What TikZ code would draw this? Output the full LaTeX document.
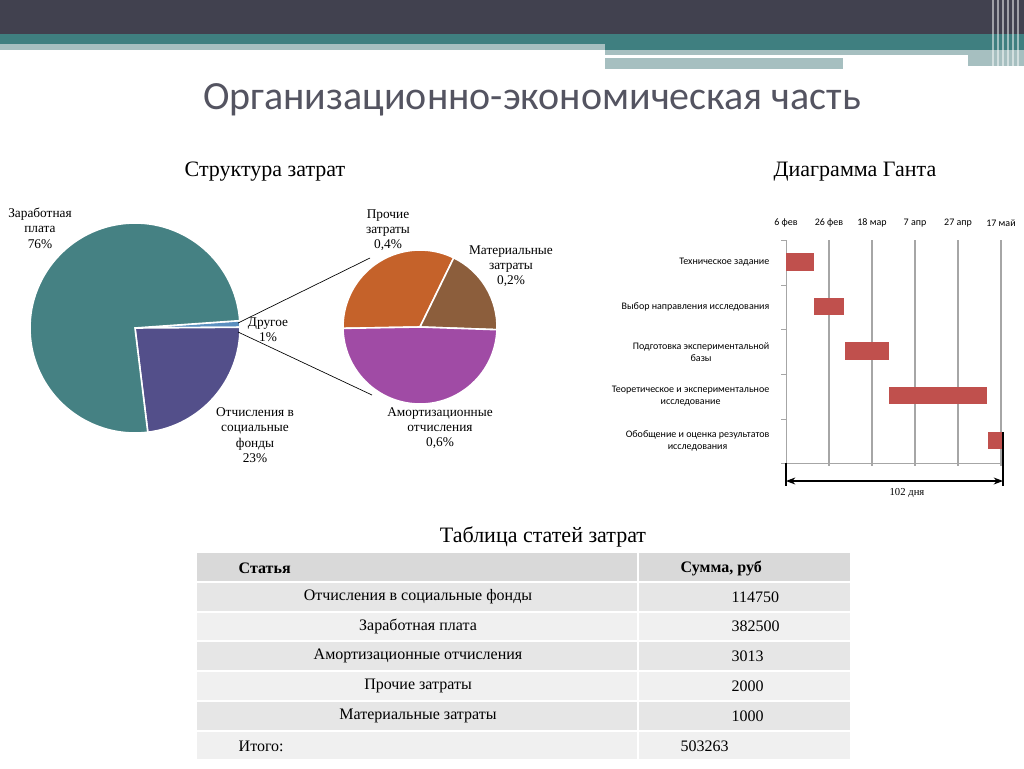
\documentclass[tikz,border=0pt]{standalone}
\usepackage{fontspec}
\setmainfont{Liberation Serif}
\newfontfamily\calib{Carlito}
\usetikzlibrary{positioning,arrows.meta}
\definecolor{hdark}{HTML}{41414F}
\definecolor{hteal}{HTML}{3F7F80}
\definecolor{hlight}{HTML}{A6BFC0}
\definecolor{sdteal}{HTML}{458183}
\definecolor{sdpurple}{HTML}{534F8A}
\definecolor{sdblue}{HTML}{5B8FBF}
\definecolor{sdorange}{HTML}{C5622A}
\definecolor{sdbrown}{HTML}{8C5E3C}
\definecolor{sdmagenta}{HTML}{A04BA5}
\definecolor{gbar}{HTML}{C0504D}
\definecolor{rowa}{HTML}{E6E6E6}
\definecolor{rowb}{HTML}{F0F0F0}
\definecolor{rowh}{HTML}{D9D9D9}
\newcommand{\pieslice}[5]{%
  \fill[#5, draw=white, line width=1.2pt] (#1) -- ++(#3:#2) arc[start angle=#3, end angle=#4, radius=#2] -- cycle;}
\tikzset{
  pielabel/.style={align=center, font=\fontsize{10}{11.5}\selectfont},
  subtitle/.style={font=\fontsize{16.5}{19}\selectfont},
  ganttlabel/.style={align=right, anchor=east, font=\calib\fontsize{7.5}{9}\selectfont},
  datelabel/.style={font=\calib\fontsize{7.5}{9}\selectfont},
  ganttbar/.style={fill=gbar},
  cell/.style={font=\fontsize{12}{14}\selectfont},
}
\begin{document}
\begin{tikzpicture}[x=0.75pt,y=-0.75pt]
\useasboundingbox (0,0) rectangle (1024,768);
% header bars
\fill[hdark] (0,0) rectangle (1024,34);
\fill[hteal] (0,34) rectangle (1024,44);
\fill[hlight] (0,44) rectangle (605,50);
\fill[hteal] (605,44) rectangle (1024,50);
\fill[hlight] (605,50) rectangle (1024,55);
\fill[white] (605,55) rectangle (968,58);
\fill[hlight] (968,55) rectangle (1024,66);
\fill[hlight] (605,58) rectangle (843,69);
\foreach \x in {993,998,1003,1008,1013,1018}
  \draw[white, opacity=.5, line width=0.8pt] (\x,0) -- (\x,66);
% title
\node[font=\calib\fontsize{30}{34}\selectfont, text=hdark!90] (title) at (532,100) {Организационно-экономическая часть};
\node[subtitle] (costs) at (265,172) {Структура затрат};
\node[subtitle] (gantt) at (855,172) {Диаграмма Ганта};
% pie of costs
\coordinate (pa) at (135,328);
\pieslice{pa}{78.75pt}{4}{0.4}{sdblue}
\pieslice{pa}{78.75pt}{0.4}{-83}{sdpurple}
\pieslice{pa}{78.75pt}{4}{277}{sdteal}
\coordinate (pb) at (420,327);
\pieslice{pb}{57.75pt}{181}{64}{sdorange}
\pieslice{pb}{57.75pt}{64}{-2}{sdbrown}
\pieslice{pb}{57.75pt}{-2}{-179}{sdmagenta}
\coordinate (oth1) at (238,323);
\coordinate (oth2) at (238,332);
\coordinate (pbt) at (370,258);
\coordinate (pbb) at (372,395);
\draw[black, line width=0.5pt] (oth1) -- (pbt);
\draw[black, line width=0.5pt] (oth2) -- (pbb);
\node[pielabel] (lsal) at (40,228) {Заработная\\плата\\76\%};
\node[pielabel] (loth) at (268,330) {Другое\\1\%};
\node[pielabel] (lsoc) at (255,435) {Отчисления в\\социальные\\фонды\\23\%};
\node[pielabel] (lpro) at (388,230) {Прочие\\затраты\\0,4\%};
\node[pielabel] (lmat) at (511,266) {Материальные\\затраты\\0,2\%};
\node[pielabel] (lamo) at (440,428) {Амортизационные\\отчисления\\0,6\%};
% gantt chart
\foreach \x in {829,872,915,958,1001}
  \draw[gray!70, line width=0.8pt] (\x,240) -- (\x,466);
\draw[gray!70, line width=0.6pt] (786,240) -- (786,463) -- (1003,463);
\foreach \y in {240,285,329,374,419,463}
  \draw[gray!70, line width=0.6pt] (781,\y) -- (786,\y);
\foreach \x/\d in {786/6 фев,829/26 фев,872/18 мар,915/7 апр,958/27 апр,1001/17 май}
  \node[datelabel] at (\x,223) {\d};
\fill[ganttbar] (786,253) rectangle (814,271);
\fill[ganttbar] (814,298) rectangle (844,315);
\fill[ganttbar] (845,342) rectangle (889,360);
\fill[ganttbar] (889,387) rectangle (987,404);
\fill[ganttbar] (988,432) rectangle (1003,449);
\node[ganttlabel] (t1) at (774,262) {Техническое задание};
\node[ganttlabel] (t2) at (774,307) {Выбор направления исследования};
\node[ganttlabel, align=center] (t3) at (774,352) {Подготовка экспериментальной\\базы};
\node[ganttlabel, align=center] (t4) at (774,396) {Теоретическое и экспериментальное\\исследование};
\node[ganttlabel, align=center] (t5) at (774,441) {Обобщение и оценка результатов\\исследования};
\coordinate (ds) at (786,481);
\coordinate (de) at (1003,481);
\draw[line width=1pt] (786,463) -- (786,486);
\draw[line width=1pt] (1003,432) -- (1003,486);
\draw[{Stealth[length=7pt]}-{Stealth[length=7pt]}, line width=0.8pt] (ds) -- (de);
\node[font=\fontsize{8}{9}\selectfont] (dur) at (907,493) {102 дня};
% table
\node[subtitle] (tabt) at (543,537) {Таблица статей затрат};
\fill[rowh] (197,553) rectangle (850,582);
\foreach \i/\c in {0/rowa,1/rowb,2/rowa,3/rowb,4/rowa,5/rowb}
  \fill[\c] (197,582+\i*29.7) rectangle (850,582+\i*29.7+29.7);
\foreach \i in {0,...,6}
  \draw[white, line width=1.5pt] (197,582+\i*29.7) -- (850,582+\i*29.7);
\draw[white, line width=1.5pt] (638,553) -- (638,760);
\node[cell, font=\bfseries\fontsize{12}{14}\selectfont, anchor=west] (h1) at (234,568) {Статья};
\node[cell, font=\bfseries\fontsize{12}{14}\selectfont, anchor=west] (h2) at (676,568) {Сумма, руб};
\foreach \i/\n/\v in {0/Отчисления в социальные фонды/114750,1/Заработная плата/382500,2/Амортизационные отчисления/3013,3/Прочие затраты/2000,4/Материальные затраты/1000}{
  \node[cell] at (418,597+\i*29.7) {\n};
  \node[cell, anchor=west] at (727,597+\i*29.7) {\v};
}
\node[cell, anchor=west] (tot) at (234,746) {Итого:};
\node[cell, anchor=west] (totv) at (676,746) {503263};
\end{tikzpicture}
\end{document}
